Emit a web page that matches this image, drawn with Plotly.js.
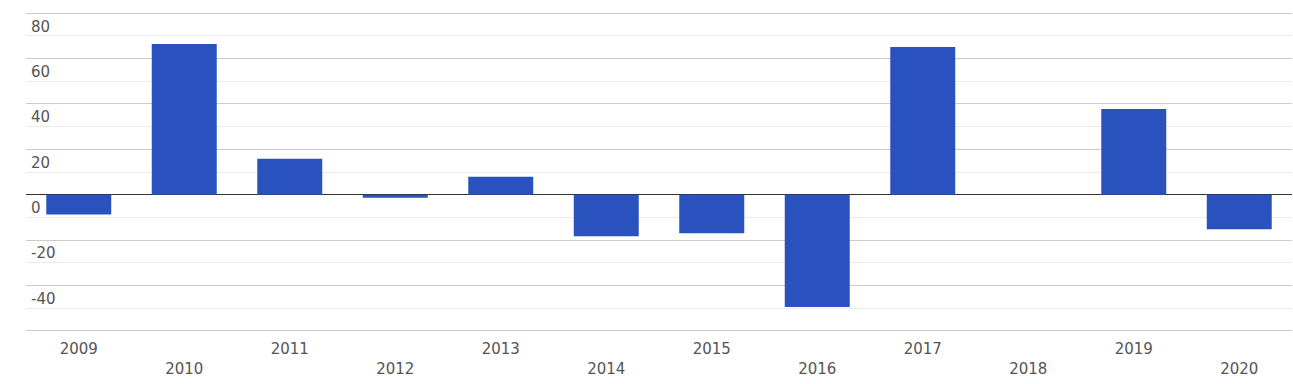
<!DOCTYPE html>
<html>
<head>
<meta charset="utf-8">
<script src="https://cdn.plot.ly/plotly-3.0.1.min.js"></script>
<style>
html,body{margin:0;padding:0;background:#fff;}
#chart{width:1293px;height:384px;}
</style>
</head>
<body>
<div id="chart"></div>
<script>
const years = ["2009","2010","2011","2012","2013","2014","2015","2016","2017","2018","2019","2020"];
const values = [-8.7, 66.4, 15.8, -1.4, 7.9, -18.3, -17.0, -49.5, 65.1, 0, 37.8, -15.2];
const tickLabels = ["2009","<br>2010","2011","<br>2012","2013","<br>2014","2015","<br>2016","2017","<br>2018","2019","<br>2020"];
const yTicks = [-60, -40, -20, 0, 20, 40, 60, 80];
const yTickText = ["", "-40", "-20", "0", "20", "40", "60", "80"];

const trace = {
  type: "bar",
  x: years,
  y: values,
  marker: {color: "#2a52be", line: {width: 0}},
  hoverinfo: "x+y"
};

const layout = {
  width: 1293,
  height: 384,
  margin: {l: 26, r: 1, t: 10.6, b: 51.4, autoexpand: false},
  paper_bgcolor: "#fff",
  plot_bgcolor: "#fff",
  showlegend: false,
  bargap: 0.384,
  font: {family: "DejaVu Sans, sans-serif", size: 15, color: "#555555"},
  xaxis: {
    type: "category",
    range: [-0.5, 11.5],
    automargin: false,
    tickmode: "array",
    tickvals: years,
    ticktext: tickLabels,
    showgrid: false,
    showline: false,
    zeroline: false,
    ticks: "",
    ticklabelstandoff: 5,
    tickfont: {size: 15, color: "#555555"}
  },
  yaxis: {
    range: [-61, 81],
    automargin: false,
    tickmode: "array",
    tickvals: yTicks,
    ticktext: yTickText,
    showgrid: true,
    gridcolor: "#cccccc",
    gridwidth: 1,
    zeroline: true,
    zerolinecolor: "#333333",
    zerolinewidth: 1.3,
    showline: false,
    ticks: "",
    ticklabelposition: "inside",
    ticklabelshift: 13,
    ticklabelstandoff: 2,
    tickfont: {size: 15, color: "#555555"},
    minor: {dtick: 10, tick0: 0, showgrid: true, gridcolor: "#ebebeb", gridwidth: 1, ticks: ""}
  }
};

Plotly.newPlot("chart", [trace], layout, {displayModeBar: false, staticPlot: true});
</script>
</body>
</html>
